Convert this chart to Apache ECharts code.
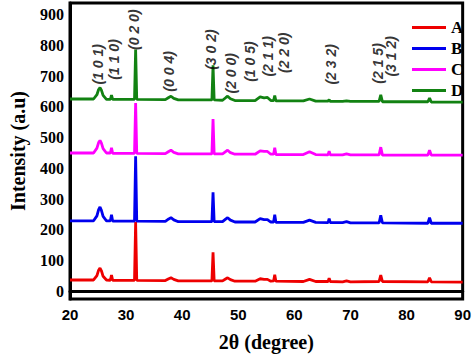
<!DOCTYPE html>
<html><head><meta charset="utf-8">
<script src="https://cdn.jsdelivr.net/npm/echarts@6/dist/echarts.min.js"></script>
<style>html,body{margin:0;padding:0;background:#fff}#c{width:474px;height:357px}</style>
</head><body><div id="c"></div>
<script>
// 2θ positions (degree)
const twoTheta = [20, 24.2, 24.8, 25.1, 25.35, 25.6, 25.9, 26.5, 27.2, 27.4, 27.6,
  31.5, 31.7, 31.9, 37.0, 37.6, 38.0, 38.5, 39.3, 45.3, 45.5, 45.7,
  47.2, 47.8, 48.1, 48.6, 49.4, 53.0, 53.9, 54.6, 55.2, 55.8, 56.3, 56.5, 56.7,
  61.6, 62.7, 63.8, 66.0, 66.2, 66.4, 68.6, 69.3, 70.0, 75.1, 75.4, 75.7,
  83.8, 84.1, 84.4, 90];
// Intensities (a.u), offset as in the figure
const seriesA = [36, 36, 50, 68, 75, 66, 48, 36, 35, 52, 35,
  35, 225, 35, 34, 40, 43, 38, 33, 33, 126, 33,
  33, 40, 43, 37, 32, 32, 40, 38, 38, 32, 33, 53, 32,
  31, 38, 31, 31, 42, 31, 30, 33, 30, 31, 52, 31,
  30, 43, 30, 29];
const seriesB = [229, 229, 245, 265, 274, 263, 243, 229, 229, 249, 228,
  228, 439, 228, 227, 235, 239, 232, 226, 226, 322, 226,
  226, 235, 239, 231, 225, 225, 236, 233, 233, 225, 225, 249, 224,
  224, 231, 224, 223, 236, 223, 223, 226, 222, 222, 247, 222,
  221, 239, 221, 221];
const seriesC = [450, 450, 466, 484, 491, 482, 464, 450, 450, 467, 449,
  449, 613, 449, 448, 455, 459, 452, 447, 447, 561, 447,
  447, 455, 459, 451, 446, 446, 457, 455, 455, 446, 446, 467, 445,
  445, 454, 445, 444, 456, 444, 444, 447, 444, 444, 469, 443,
  443, 459, 443, 443];
const seriesD = [626, 626, 640, 657, 663, 655, 638, 625, 625, 639, 625,
  625, 787, 625, 624, 631, 635, 628, 623, 623, 736, 623,
  622, 631, 635, 627, 621, 621, 633, 630, 631, 621, 621, 637, 620,
  620, 626, 619, 619, 624, 618, 618, 620, 618, 618, 640, 617,
  617, 629, 616, 616];
const seriesNames = ['A', 'B', 'C', 'D'];
const seriesColors = ['#ee0000', '#0000ee', '#ff00ff', '#128212'];
const yTicks = [0, 100, 200, 300, 400, 500, 600, 700, 800, 900];
// Miller index annotations
const hklLabels = ['(1 0 1)', '(1 1 0)', '(0 2 0)', '(0 0 4)', '(3 0 2)', '(2 0 0)',
  '(1 0 5)', '(2 1 1)', '(2 2 0)', '(2 3 2)', '(2 1 5)', '(3 1 2)'];
const hklX = [25.0, 27.9, 31.4, 37.6, 45.2, 48.7, 52.0, 55.3, 58.2, 66.6, 74.9, 77.3];
const hklY = [739, 755, 852, 716, 787, 710, 748, 765, 777, 739, 742, 765];

const allSeries = [seriesA, seriesB, seriesC, seriesD];
const chart = echarts.init(document.getElementById('c'), null, {renderer: 'svg'});
const lineSeries = allSeries.map((vals, i) => ({
  name: seriesNames[i],
  type: 'line',
  data: twoTheta.map((x, j) => [x, vals[j]]),
  showSymbol: false,
  symbol: 'none',
  lineStyle: {color: seriesColors[i], width: 2.8},
  itemStyle: {color: seriesColors[i]},
  z: 2 + i
}));
lineSeries.push({
  name: 'hkl',
  type: 'scatter',
  silent: true,
  symbolSize: 0,
  data: hklLabels.map((t, i) => ({name: t, value: [hklX[i], hklY[i]]})),
  label: {
    show: true, position: 'inside', rotate: 90,
    formatter: p => p.name,
    color: '#000', fontSize: 14, fontStyle: 'italic', fontWeight: 'bold',
    fontFamily: 'Liberation Sans', align: 'center', verticalAlign: 'middle'
  },
  z: 10
});
chart.setOption({
  animation: false,
  backgroundColor: '#fff',
  grid: {left: 62, right: 9, top: 3, bottom: 55, show: true,
    borderColor: '#000', borderWidth: 3, backgroundColor: 'transparent'},
  legend: {
    data: seriesNames, orient: 'vertical', left: 407, top: 14,
    icon: 'rect', itemWidth: 34, itemHeight: 3, itemGap: 4,
    textStyle: {fontFamily: 'Liberation Serif', fontWeight: 'bold', fontSize: 17,
      color: '#000', lineHeight: 16}
  },
  xAxis: {
    type: 'value', min: 20, max: 90, interval: 10,
    name: '2θ (degree)', nameLocation: 'middle', nameGap: 33,
    nameTextStyle: {fontFamily: 'Liberation Serif', fontWeight: 'bold', fontSize: 20, color: '#000'},
    axisLine: {show: true, lineStyle: {color: '#000', width: 3}},
    axisTick: {show: false}, splitLine: {show: false},
    axisLabel: {fontFamily: 'Liberation Sans', fontWeight: 'bold', fontSize: 15, color: '#000', margin: 8}
  },
  yAxis: {
    type: 'value', min: -26, max: 939,
    name: 'Intensity (a.u)', nameLocation: 'middle', nameGap: 42,
    nameTextStyle: {fontFamily: 'Liberation Serif', fontWeight: 'bold', fontSize: 20, color: '#000'},
    axisLine: {show: true, lineStyle: {color: '#000', width: 3}},
    axisTick: {show: false}, splitLine: {show: false},
    axisLabel: {customValues: yTicks, fontFamily: 'Liberation Serif', fontWeight: 'bold',
      fontSize: 16, color: '#000', margin: 6}
  },
  series: lineSeries
});
</script></body></html>
